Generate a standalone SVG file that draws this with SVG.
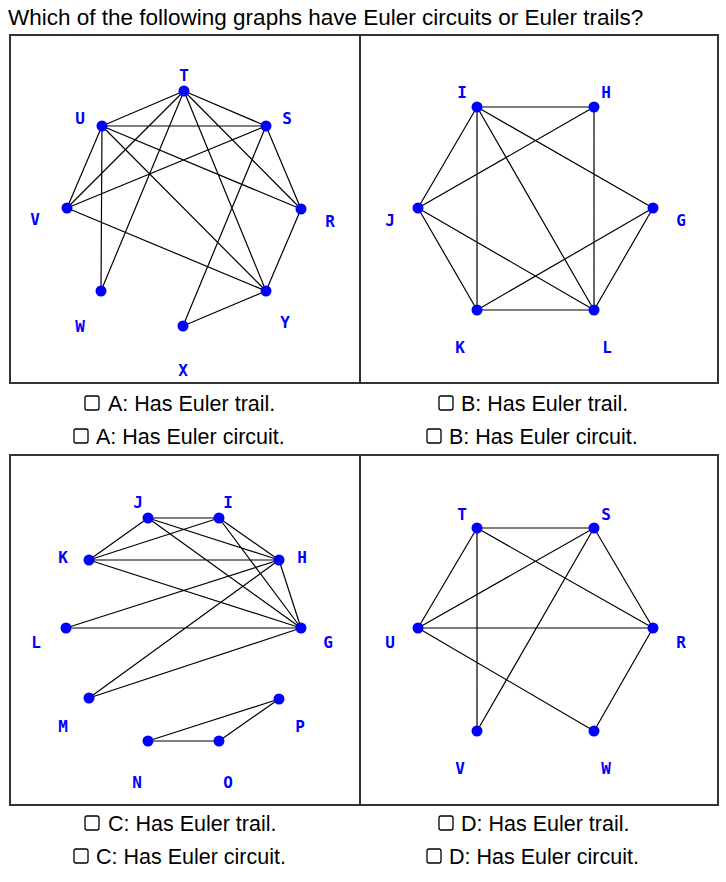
<svg xmlns="http://www.w3.org/2000/svg" width="726" height="882" viewBox="0 0 726 882">
<style>
.e{stroke:#000;stroke-width:1.2}
.n{fill:#0000ff}
.l{fill:#0000ff;font-family:"DejaVu Sans Mono",monospace;font-weight:bold;font-size:16px;text-anchor:middle}
.t{font-family:"Liberation Sans",Arial,sans-serif;font-size:21.5px;fill:#000}
.h{font-family:"Liberation Sans",Arial,sans-serif;font-size:22.5px;fill:#000}
.b{fill:#fff;stroke:#000;stroke-width:1.3}
.p{fill:#fff;stroke:#333;stroke-width:2}
</style>
<rect width="726" height="882" fill="#fff"/>
<text class="h" x="8" y="25">Which of the following graphs have Euler circuits or Euler trails?</text>
<rect class="p" x="10" y="35" width="350" height="348"/>
<rect class="p" x="360" y="35" width="358" height="348"/>
<rect class="p" x="10" y="455" width="350" height="350"/>
<rect class="p" x="360" y="455" width="358" height="350"/>
<g id="connectors">
<path class="e" d="M184,91L102,126M184,91L266,126M184,91L67,208M184,91L101,291M184,91L266,291M184,91L301,209M102,126L266,126M102,126L67,208M102,126L101,291M102,126L301,209M102,126L266,291M266,126L67,208M266,126L301,209M266,126L183,326M67,208L266,291M301,209L266,291M266,291L183,326"/>
<path class="e" d="M477,107L594,107M477,107L477,310M477,107L418,208M477,107L594,310M477,107L653,208M594,107L418,208M594,107L594,310M418,208L477,310M418,208L594,310M653,208L477,310M653,208L594,310M477,310L594,310"/>
<path class="e" d="M148,518L219,518M148,518L89,560M148,518L279,560M148,518L301,628M219,518L89,560M219,518L279,560M219,518L301,628M89,560L279,560M89,560L301,628M279,560L66,628M279,560L89,698M279,560L301,628M66,628L301,628M89,698L301,628M148,741L219,741M148,741L279,699M219,741L279,699"/>
<path class="e" d="M477,528L594,528M477,528L418,628M477,528L477,731M477,528L653,628M594,528L418,628M594,528L477,731M594,528L653,628M418,628L653,628M418,628L594,731M653,628L594,731"/>
</g>
<g id="graphA">
<g id="A-T"><circle class="n" cx="184" cy="91" r="5.5"/><text class="l" x="184" y="81">T</text></g>
<g id="A-U"><circle class="n" cx="102" cy="126" r="5.5"/><text class="l" x="80" y="124">U</text></g>
<g id="A-S"><circle class="n" cx="266" cy="126" r="5.5"/><text class="l" x="287" y="124">S</text></g>
<g id="A-V"><circle class="n" cx="67" cy="208" r="5.5"/><text class="l" x="35" y="225">V</text></g>
<g id="A-R"><circle class="n" cx="301" cy="209" r="5.5"/><text class="l" x="330" y="227">R</text></g>
<g id="A-W"><circle class="n" cx="101" cy="291" r="5.5"/><text class="l" x="80" y="332">W</text></g>
<g id="A-Y"><circle class="n" cx="266" cy="291" r="5.5"/><text class="l" x="285" y="328">Y</text></g>
<g id="A-X"><circle class="n" cx="183" cy="326" r="5.5"/><text class="l" x="183" y="376">X</text></g>
</g>
<g id="graphB">
<g id="B-I"><circle class="n" cx="477" cy="107" r="5.5"/><text class="l" x="462" y="98">I</text></g>
<g id="B-H"><circle class="n" cx="594" cy="107" r="5.5"/><text class="l" x="606" y="98">H</text></g>
<g id="B-J"><circle class="n" cx="418" cy="208" r="5.5"/><text class="l" x="390" y="226">J</text></g>
<g id="B-G"><circle class="n" cx="653" cy="208" r="5.5"/><text class="l" x="681" y="226">G</text></g>
<g id="B-K"><circle class="n" cx="477" cy="310" r="5.5"/><text class="l" x="460" y="353">K</text></g>
<g id="B-L"><circle class="n" cx="594" cy="310" r="5.5"/><text class="l" x="607" y="353">L</text></g>
</g>
<g id="graphC">
<g id="C-J"><circle class="n" cx="148" cy="518" r="5.5"/><text class="l" x="138" y="508">J</text></g>
<g id="C-I"><circle class="n" cx="219" cy="518" r="5.5"/><text class="l" x="228" y="508">I</text></g>
<g id="C-K"><circle class="n" cx="89" cy="560" r="5.5"/><text class="l" x="63" y="563">K</text></g>
<g id="C-H"><circle class="n" cx="279" cy="560" r="5.5"/><text class="l" x="302" y="563">H</text></g>
<g id="C-L"><circle class="n" cx="66" cy="628" r="5.5"/><text class="l" x="36" y="648">L</text></g>
<g id="C-G"><circle class="n" cx="301" cy="628" r="5.5"/><text class="l" x="328" y="648">G</text></g>
<g id="C-M"><circle class="n" cx="89" cy="698" r="5.5"/><text class="l" x="63" y="732">M</text></g>
<g id="C-P"><circle class="n" cx="279" cy="699" r="5.5"/><text class="l" x="300" y="732">P</text></g>
<g id="C-N"><circle class="n" cx="148" cy="741" r="5.5"/><text class="l" x="137" y="788">N</text></g>
<g id="C-O"><circle class="n" cx="219" cy="741" r="5.5"/><text class="l" x="228" y="788">O</text></g>
</g>
<g id="graphD">
<g id="D-T"><circle class="n" cx="477" cy="528" r="5.5"/><text class="l" x="462" y="520">T</text></g>
<g id="D-S"><circle class="n" cx="594" cy="528" r="5.5"/><text class="l" x="606" y="520">S</text></g>
<g id="D-U"><circle class="n" cx="418" cy="628" r="5.5"/><text class="l" x="390" y="648">U</text></g>
<g id="D-R"><circle class="n" cx="653" cy="628" r="5.5"/><text class="l" x="681" y="648">R</text></g>
<g id="D-V"><circle class="n" cx="477" cy="731" r="5.5"/><text class="l" x="460" y="774">V</text></g>
<g id="D-W"><circle class="n" cx="594" cy="731" r="5.5"/><text class="l" x="606" y="774">W</text></g>
</g>
<g id="options">
<rect class="b" x="85" y="396" width="14" height="14" rx="2"/><text class="t" x="108" y="411">A: Has Euler trail.</text>
<rect class="b" x="74" y="429" width="14" height="14" rx="2"/><text class="t" x="96" y="444">A: Has Euler circuit.</text>
<rect class="b" x="439" y="396" width="14" height="14" rx="2"/><text class="t" x="461" y="411">B: Has Euler trail.</text>
<rect class="b" x="427" y="429" width="14" height="14" rx="2"/><text class="t" x="449" y="444">B: Has Euler circuit.</text>
<rect class="b" x="85" y="816" width="14" height="14" rx="2"/><text class="t" x="108" y="831">C: Has Euler trail.</text>
<rect class="b" x="74" y="849" width="14" height="14" rx="2"/><text class="t" x="96" y="864">C: Has Euler circuit.</text>
<rect class="b" x="439" y="816" width="14" height="14" rx="2"/><text class="t" x="461" y="831">D: Has Euler trail.</text>
<rect class="b" x="427" y="849" width="14" height="14" rx="2"/><text class="t" x="449" y="864">D: Has Euler circuit.</text>
</g>
</svg>
